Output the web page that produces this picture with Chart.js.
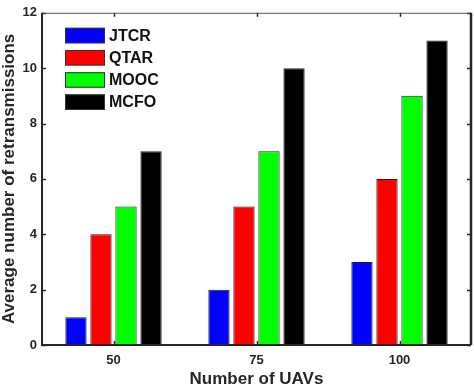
<!DOCTYPE html>
<html>
<head>
<meta charset="utf-8">
<script src="https://cdn.jsdelivr.net/npm/chart.js@4.4.1/dist/chart.umd.min.js"></script>
<style>
  html, body { margin: 0; padding: 0; background: #fff; }
  #wrap { width: 474px; height: 388px; }
</style>
</head>
<body>
<div id="wrap"><canvas id="retrans"></canvas></div>
<script>
var uavCounts = ['50', '75', '100'];
var seriesNames = ['JTCR', 'QTAR', 'MOOC', 'MCFO'];
var jtcrValues = [1, 2, 3];
var qtarValues = [4, 5, 6];
var moocValues = [5, 7, 9];
var mcfoValues = [7, 10, 11];
var yTicks = [0, 2, 4, 6, 8, 10, 12];

var barColors = ['#0000ff', '#ff0000', '#00ff00', '#000000'];
var seriesValues = [jtcrValues, qtarValues, moocValues, mcfoValues];

var axisColor = '#262626';

// box around the plot + inward tick marks (matlab style)
var frameTicks = {
    id: 'frameTicks',
    afterDraw: function (chart) {
        var ctx = chart.ctx;
        var a = chart.chartArea;
        var xs = chart.scales.x;
        var ys = chart.scales.y;
        ctx.save();
        ctx.strokeStyle = axisColor;
        ctx.lineWidth = 1.5;
        for (var i = 0; i < yTicks.length; i++) {
            var py = Math.round(ys.getPixelForValue(yTicks[i])) + 0.5;
            ctx.beginPath();
            ctx.moveTo(a.left, py); ctx.lineTo(a.left + 4, py);
            ctx.moveTo(a.right, py); ctx.lineTo(a.right - 4, py);
            ctx.stroke();
        }
        for (var j = 0; j < uavCounts.length; j++) {
            var px = Math.round(xs.getPixelForValue(j)) + 0.5;
            ctx.beginPath();
            ctx.moveTo(px, a.bottom); ctx.lineTo(px, a.bottom - 4);
            ctx.moveTo(px, a.top); ctx.lineTo(px, a.top + 4);
            ctx.stroke();
        }
        // top edge thin grey
        ctx.strokeStyle = '#555';
        ctx.lineWidth = 1;
        ctx.beginPath();
        ctx.moveTo(a.left, a.top + 0.5); ctx.lineTo(a.right, a.top + 0.5);
        ctx.stroke();
        // left / bottom / right darker
        ctx.strokeStyle = axisColor;
        ctx.lineWidth = 2;
        ctx.beginPath();
        ctx.moveTo(a.left, a.top); ctx.lineTo(a.left, a.bottom);
        ctx.lineTo(a.right, a.bottom);
        ctx.stroke();
        ctx.lineWidth = 2.5;
        ctx.beginPath();
        ctx.moveTo(a.right, a.top); ctx.lineTo(a.right, a.bottom);
        ctx.stroke();
        ctx.restore();
    }
};

// legend drawn inside the plot, upper left
var insideLegend = {
    id: 'insideLegend',
    afterDraw: function (chart) {
        var ctx = chart.ctx;
        var a = chart.chartArea;
        var ds = chart.data.datasets;
        ctx.save();
        ctx.font = 'bold 16px "Liberation Sans", Arial, sans-serif';
        ctx.textBaseline = 'middle';
        ctx.textAlign = 'left';
        for (var i = 0; i < ds.length; i++) {
            var bx = a.left + 23;
            var by = a.top + 15 + i * 22.2;
            ctx.fillStyle = ds[i].backgroundColor;
            ctx.fillRect(bx, by, 40, 15.5);
            ctx.strokeStyle = '#333';
            ctx.lineWidth = 1;
            ctx.strokeRect(bx + 0.5, by + 0.5, 39, 14.5);
            ctx.fillStyle = '#111';
            ctx.fillText(ds[i].label, bx + 44, by + 8.5);
        }
        ctx.restore();
    }
};

var datasets = seriesNames.map(function (name, i) {
    return {
        label: name,
        data: seriesValues[i],
        backgroundColor: barColors[i],
        borderColor: '#222',
        borderWidth: 1,
        categoryPercentage: 0.7,
        barPercentage: 0.85
    };
});

var ctx = document.getElementById('retrans').getContext('2d');
var chart = new Chart(ctx, {
    type: 'bar',
    data: { labels: uavCounts, datasets: datasets },
    plugins: [frameTicks, insideLegend],
    options: {
        responsive: true,
        maintainAspectRatio: false,
        animation: false,
        devicePixelRatio: 1,
        layout: { padding: { top: 7, right: 3, left: 0, bottom: 0 } },
        plugins: {
            legend: { display: false },
            tooltip: { enabled: false }
        },
        scales: {
            x: {
                grid: { display: false, drawTicks: false },
                border: { display: false },
                ticks: {
                    color: axisColor,
                    padding: 8,
                    font: { family: '"Liberation Sans", Arial, sans-serif', size: 13, weight: 'bold' }
                },
                title: {
                    display: true,
                    text: 'Number of UAVs',
                    color: axisColor,
                    padding: 0,
                    font: { family: '"Liberation Sans", Arial, sans-serif', size: 17, weight: 'bold', lineHeight: 1 }
                },
                afterFit: function (scale) { scale.height = 43; }
            },
            y: {
                min: 0,
                max: 12,
                afterBuildTicks: function (scale) {
                    scale.ticks = yTicks.map(function (v) { return { value: v }; });
                },
                grid: { display: false, drawTicks: false },
                border: { display: false },
                ticks: {
                    color: axisColor,
                    padding: 5,
                    font: { family: '"Liberation Sans", Arial, sans-serif', size: 13, weight: 'bold' }
                },
                title: {
                    display: true,
                    text: 'Average number of retransmissions',
                    color: axisColor,
                    padding: { top: 1, bottom: 0 },
                    font: { family: '"Liberation Sans", Arial, sans-serif', size: 17, weight: 'bold', lineHeight: 1 }
                },
                afterFit: function (scale) { scale.width = 42; }
            }
        }
    }
});
</script>
</body>
</html>
